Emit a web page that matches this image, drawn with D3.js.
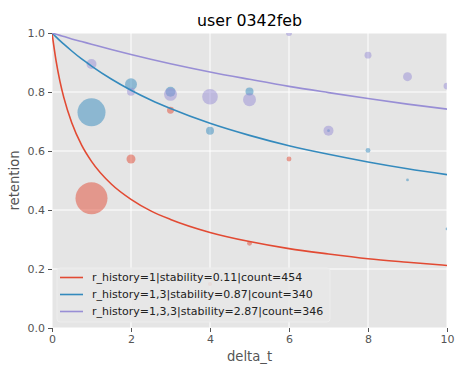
<!DOCTYPE html>
<html>
<head>
<meta charset="utf-8">
<script src="https://cdn.jsdelivr.net/npm/d3@7"></script>
<style>
  html, body { margin: 0; padding: 0; background: #ffffff; }
  svg { display: block; font-family: "DejaVu Sans", sans-serif; }
</style>
</head>
<body>
<svg id="chart" width="474" height="370"></svg>
<script>
// ---- data ----
const title = "user 0342feb";
const xLabel = "delta_t";
const yLabel = "retention";
const xTicks = [0, 2, 4, 6, 8, 10];
const yTicks = [0.0, 0.2, 0.4, 0.6, 0.8, 1.0];

const seriesNames = [
  "r_history=1|stability=0.11|count=454",
  "r_history=1,3|stability=0.87|count=340",
  "r_history=1,3,3|stability=2.87|count=346"
];

// fitted curve samples (delta_t, retention)
const curveT = [0, 0.1, 0.2, 0.3, 0.5, 0.75, 1, 1.5, 2, 2.5, 3, 4, 5, 6, 7, 8, 9, 10];
const curveR1 = [1, 0.908, 0.837, 0.781, 0.696, 0.620, 0.565, 0.488, 0.436, 0.397, 0.368, 0.324, 0.293, 0.269, 0.251, 0.235, 0.223, 0.212];
const curveR2 = [1, 0.987, 0.974, 0.962, 0.939, 0.912, 0.888, 0.844, 0.806, 0.773, 0.744, 0.694, 0.653, 0.618, 0.589, 0.563, 0.540, 0.520];
const curveR3 = [1, 0.996, 0.992, 0.988, 0.980, 0.971, 0.962, 0.944, 0.927, 0.911, 0.896, 0.868, 0.843, 0.819, 0.798, 0.778, 0.759, 0.742];

// observed points: delta_t, retention, count
const obsT1 = [1, 2, 3, 4, 5, 6];
const obsR1 = [0.440, 0.573, 0.738, 0.149, 0.287, 0.573];
const obsN1 = [256, 20, 12, 4, 6, 6];

const obsT2 = [1, 2, 3, 4, 5, 7, 8, 9, 10];
const obsR2 = [0.731, 0.826, 0.801, 0.669, 0.802, 0.669, 0.602, 0.502, 0.336];
const obsN2 = [196, 36, 25, 16, 16, 2, 6, 2, 2];

const obsT3 = [1, 2, 3, 4, 5, 6, 7, 8, 9, 10];
const obsR3 = [0.895, 0.801, 0.792, 0.784, 0.774, 1.0, 0.669, 0.925, 0.852, 0.820];
const obsN3 = [25, 16, 42, 61, 42, 9, 25, 12, 20, 12];

const colors = ["#E24A33", "#348ABD", "#988ED5"];

// ---- layout ----
const W = 474, H = 370;
const m = { left: 52, right: 27, top: 33, bottom: 42 };
const pw = W - m.left - m.right;
const ph = H - m.top - m.bottom;

const svg = d3.select("#chart");
const x = d3.scaleLinear().domain([0, 10]).range([m.left, m.left + pw]);
const y = d3.scaleLinear().domain([0, 1]).range([m.top + ph, m.top]);
const rScale = d3.scaleSqrt().domain([0, 100]).range([0, 10]);

svg.append("rect").attr("width", W).attr("height", H).attr("fill", "#ffffff");

const defs = svg.append("defs");
defs.append("clipPath").attr("id", "plotclip")
  .append("rect").attr("x", m.left).attr("y", m.top).attr("width", pw).attr("height", ph);

svg.append("rect")
  .attr("x", m.left).attr("y", m.top).attr("width", pw).attr("height", ph)
  .attr("fill", "#E5E5E5");

// grid
const grid = svg.append("g");
grid.selectAll("line.gx").data(xTicks).join("line")
  .attr("x1", d => x(d)).attr("x2", d => x(d))
  .attr("y1", m.top).attr("y2", m.top + ph)
  .attr("stroke", "#ffffff").attr("stroke-width", 1);
grid.selectAll("line.gy").data(yTicks).join("line")
  .attr("y1", d => y(d)).attr("y2", d => y(d))
  .attr("x1", m.left).attr("x2", m.left + pw)
  .attr("stroke", "#ffffff").attr("stroke-width", 1);

// axes
const xAxis = svg.append("g").attr("transform", `translate(0,${m.top + ph})`)
  .call(d3.axisBottom(x).tickValues(xTicks).tickFormat(d3.format("d")).tickSize(4).tickPadding(3));
const yAxis = svg.append("g").attr("transform", `translate(${m.left},0)`)
  .call(d3.axisLeft(y).tickValues(yTicks).tickFormat(d3.format(".1f")).tickSize(4).tickPadding(3));
[xAxis, yAxis].forEach(a => {
  a.select(".domain").remove();
  a.selectAll(".tick line").attr("stroke", "#555555");
  a.selectAll(".tick text").attr("fill", "#555555").style("font-size", "11px")
    .style("font-family", "DejaVu Sans, sans-serif");
});

// scatter
const plot = svg.append("g").attr("clip-path", "url(#plotclip)");
const obs = [
  [obsT1, obsR1, obsN1],
  [obsT2, obsR2, obsN2],
  [obsT3, obsR3, obsN3]
];
obs.forEach((o, i) => {
  const pts = o[0].map((t, j) => ({ t, r: o[1][j], n: o[2][j] }));
  plot.append("g").selectAll("circle").data(pts).join("circle")
    .attr("cx", d => x(d.t)).attr("cy", d => y(d.r)).attr("r", d => rScale(d.n))
    .attr("fill", colors[i]).attr("fill-opacity", 0.5);
});

// curves
const curves = [curveR1, curveR2, curveR3];
const line = d3.line().x(d => x(d[0])).y(d => y(d[1])).curve(d3.curveMonotoneX);
curves.forEach((c, i) => {
  plot.append("path")
    .datum(curveT.map((t, j) => [t, c[j]]))
    .attr("d", line)
    .attr("fill", "none").attr("stroke", colors[i]).attr("stroke-width", 1.6);
});

// legend
const lg = svg.append("g");
lg.append("rect")
  .attr("x", 57).attr("y", 268).attr("width", 273).attr("height", 54).attr("rx", 3)
  .attr("fill", "#E8E8E8").attr("fill-opacity", 0.85)
  .attr("stroke", "#EDEDED").attr("stroke-width", 1);
seriesNames.forEach((name, i) => {
  const cy = 277.5 + i * 17;
  lg.append("line").attr("x1", 60).attr("x2", 83).attr("y1", cy).attr("y2", cy)
    .attr("stroke", colors[i]).attr("stroke-width", 1.6);
  lg.append("text").attr("x", 92).attr("y", cy).attr("dy", "0.35em")
    .style("font-size", "11px").attr("fill", "#222222").text(name);
});

// labels
svg.append("text").attr("x", m.left + pw / 2).attr("y", 26)
  .attr("text-anchor", "middle").style("font-size", "15.8px").attr("fill", "#000000").text(title);
svg.append("text").attr("x", m.left + pw / 2).attr("y", 361)
  .attr("text-anchor", "middle").style("font-size", "13.2px").attr("fill", "#555555").text(xLabel);
svg.append("text")
  .attr("transform", `translate(19,${m.top + ph / 2}) rotate(-90)`)
  .attr("text-anchor", "middle").style("font-size", "13.2px").attr("fill", "#555555").text(yLabel);
</script>
</body>
</html>
